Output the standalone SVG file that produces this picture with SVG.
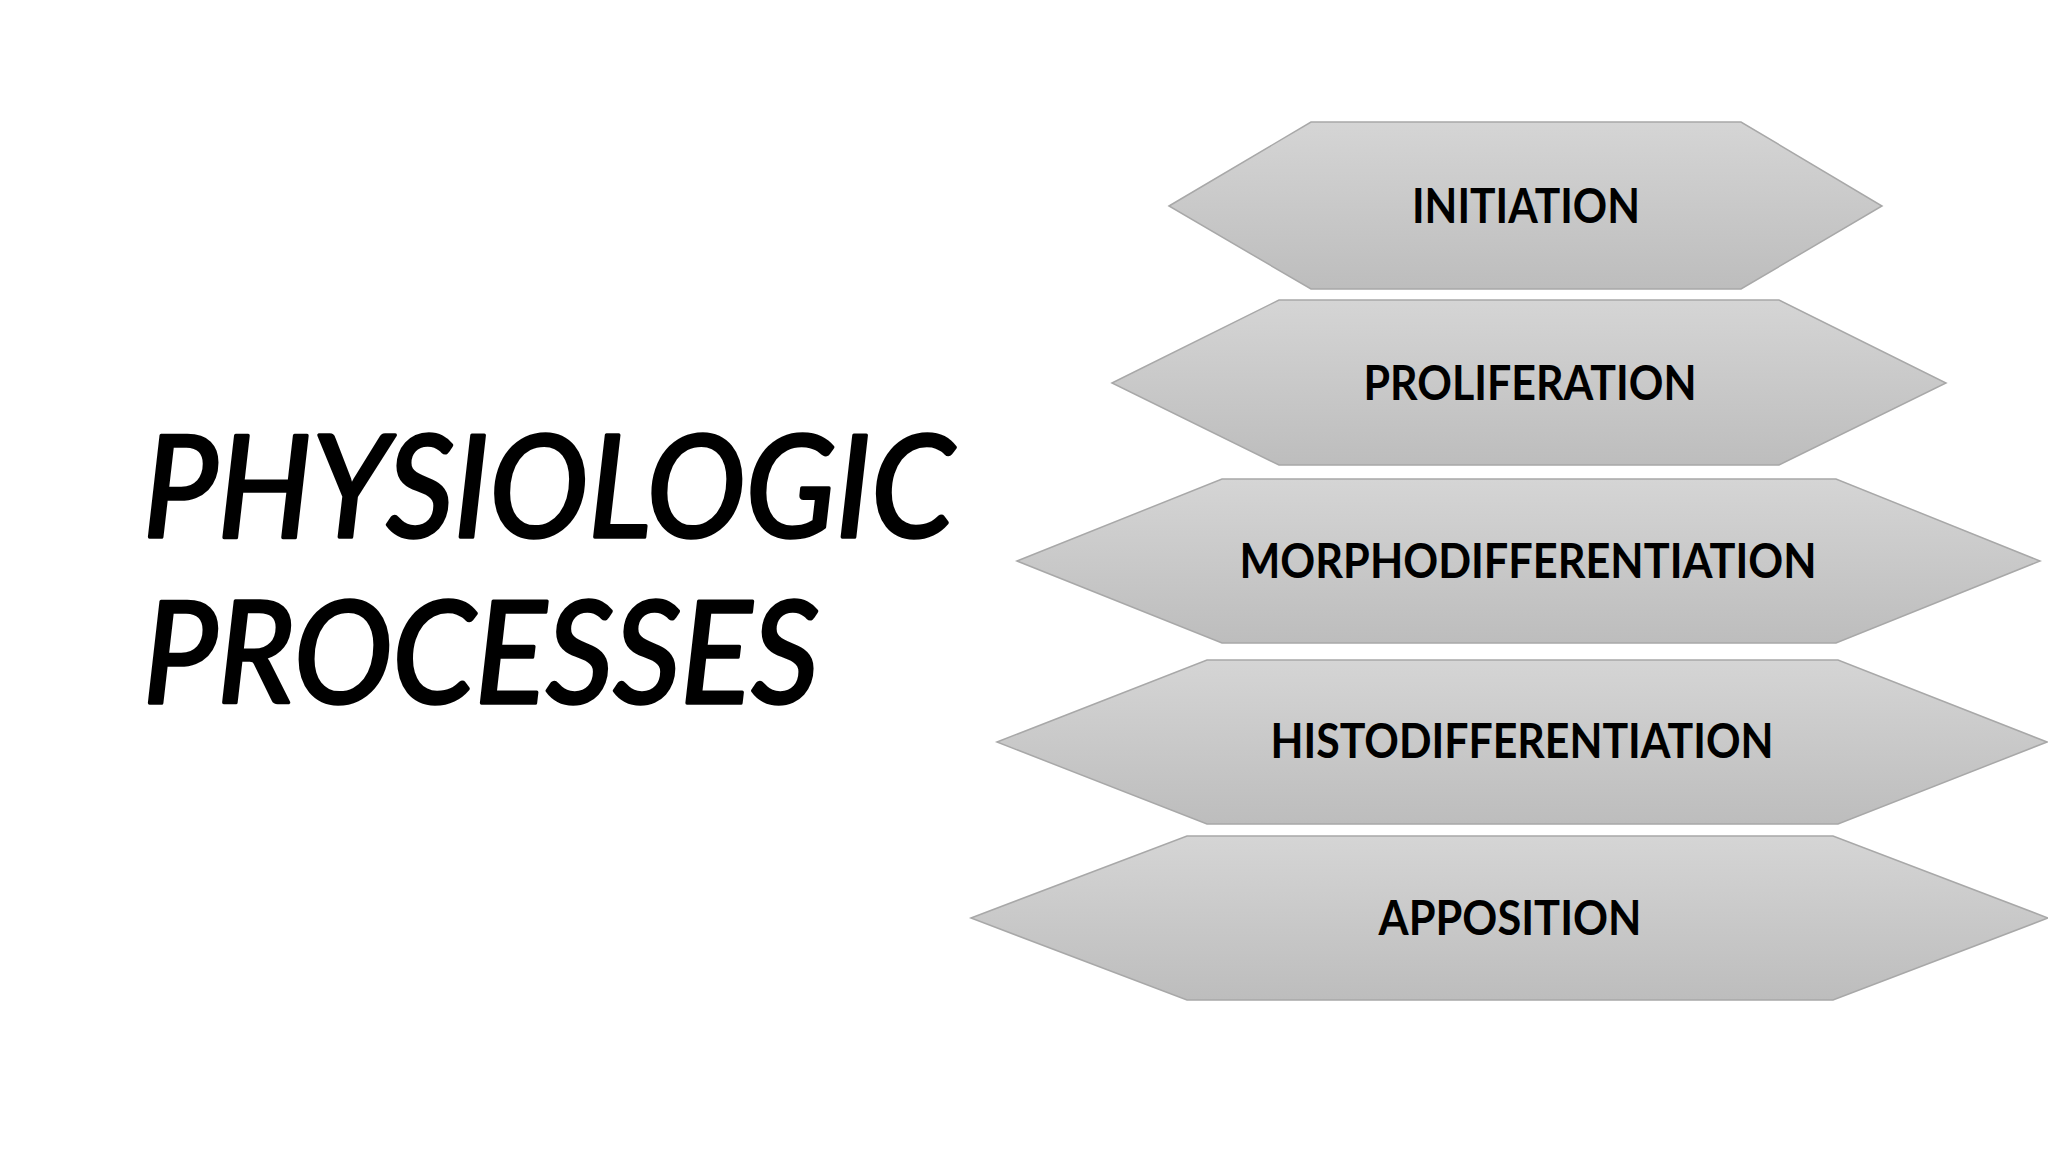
<svg xmlns="http://www.w3.org/2000/svg" width="2048" height="1152" viewBox="0 0 2048 1152">
<defs>
<linearGradient id="g" x1="0" y1="0" x2="0" y2="1">
<stop offset="0" stop-color="#d5d5d5"/>
<stop offset="1" stop-color="#bdbdbd"/>
</linearGradient>
<style>
.hex{fill:url(#g);stroke:#a8a8a8;stroke-width:1.5}
.lbl{font-family:Lato,"Open Sans","Liberation Sans",sans-serif;font-weight:bold;font-size:47px;fill:#000;text-anchor:middle}
.title{font-family:Lato,"Open Sans","Liberation Sans",sans-serif;font-style:italic;font-size:142px;fill:#000;stroke:#000;stroke-width:3.5;stroke-linejoin:round}
</style>
</defs>
<rect width="2048" height="1152" fill="#fff"/>
<g id="title">
<text class="title" x="143" y="537" textLength="811" lengthAdjust="spacingAndGlyphs">PHYSIOLOGIC</text>
<text class="title" x="143" y="703" textLength="676" lengthAdjust="spacingAndGlyphs">PROCESSES</text>
</g>
<g id="connectors"/>
<g id="initiation">
<polygon class="hex" points="1169,206 1311,122 1741,122 1882,206 1741,289 1311,289"/>
<text class="lbl" x="1526" y="223" textLength="228" lengthAdjust="spacingAndGlyphs">INITIATION</text>
</g>
<g id="proliferation">
<polygon class="hex" points="1112,383 1279,300 1779,300 1946,383 1779,465 1279,465"/>
<text class="lbl" x="1530" y="400" textLength="333" lengthAdjust="spacingAndGlyphs">PROLIFERATION</text>
</g>
<g id="morphodifferentiation">
<polygon class="hex" points="1017,561 1222,479 1836,479 2040,561 1836,643 1222,643"/>
<text class="lbl" x="1528" y="578" textLength="577" lengthAdjust="spacingAndGlyphs">MORPHODIFFERENTIATION</text>
</g>
<g id="histodifferentiation">
<polygon class="hex" points="997,742 1207,660 1838,660 2047,742 1838,824 1207,824"/>
<text class="lbl" x="1522" y="758" textLength="503" lengthAdjust="spacingAndGlyphs">HISTODIFFERENTIATION</text>
</g>
<g id="apposition">
<polygon class="hex" points="971,918 1187,836 1833,836 2048,918 1833,1000 1187,1000"/>
<text class="lbl" x="1510" y="935" textLength="263" lengthAdjust="spacingAndGlyphs">APPOSITION</text>
</g>
</svg>
